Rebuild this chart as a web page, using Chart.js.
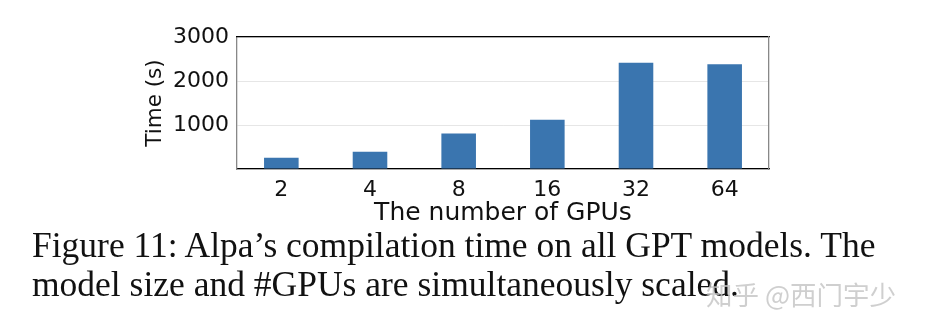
<!DOCTYPE html>
<html>
<head>
<meta charset="utf-8">
<script src="https://cdn.jsdelivr.net/npm/chart.js@4.4.0/dist/chart.umd.min.js"></script>
<style>
  body { margin: 0; background: #fff; width: 926px; height: 334px; overflow: hidden; position: relative; }
  #wrap { position: absolute; left: 0; top: 0; width: 926px; height: 230px; }
  .cap { position: absolute; left: 32px; font-family: "Liberation Serif", "Times New Roman", serif; font-size: 35.5px; line-height: 1; color: #111; white-space: nowrap; }
  #mark { position: absolute; left: 706px; top: 278px; font-family: "Noto Sans CJK SC", sans-serif; font-size: 26.5px; line-height: 1.2; color: rgba(195,195,195,0.8); white-space: nowrap; }
</style>
</head>
<body>
<div id="wrap"><canvas id="bar-chart"></canvas></div>
<div class="cap" style="top:228px">Figure 11: Alpa’s compilation time on all GPT models. The</div>
<div class="cap" style="top:267px">model size and #GPUs are simultaneously scaled.</div>
<div id="mark">知乎 @西门宇少</div>
<script>
// GPU counts on the horizontal axis
const gpuCounts = ['2', '4', '8', '16', '32', '64'];
// compilation time in seconds
const compileTime = [257, 393, 809, 1120, 2416, 2378];
// y tick values shown
const yTicks = [1000, 2000, 3000];

const font = 'DejaVu Sans';
const chartCanvas = document.querySelector('#bar-chart');

const barChart = new Chart(chartCanvas, {
  type: 'bar',
  data: {
    labels: gpuCounts,
    datasets: [{
      data: compileTime,
      backgroundColor: '#3a75af',
      barPercentage: 0.39,
      categoryPercentage: 1.0
    }]
  },
  options: {
    responsive: true,
    maintainAspectRatio: false,
    animation: false,
    layout: { padding: { left: 140, right: 157, top: 37, bottom: 2 } },
    plugins: {
      legend: { display: false },
      tooltip: { enabled: false }
    },
    scales: {
      x: {
        grid: { display: false },
        border: { color: '#000', width: 1.3 },
        ticks: { color: '#111', font: { family: font, size: 22 }, padding: 0 },
        title: { display: true, text: 'The number of GPUs', color: '#111', font: { family: font, size: 25 }, padding: { top: 0, bottom: 0 } },
        afterFit: function(scale) { scale.height = 59; }
      },
      y: {
        min: 0,
        max: 3000,
        grid: { color: '#e6e6e6', drawTicks: false },
        border: { color: '#888', width: 1.3 },
        ticks: {
          stepSize: 1000,
          color: '#111',
          font: { family: font, size: 22 },
          padding: 8,
          callback: function(value) {
            return yTicks.includes(value) ? value : '';
          }
        },
        title: { display: true, text: 'Time (s)', color: '#111', font: { family: font, size: 21.5 }, padding: { top: 3, bottom: 0 } },
        afterFit: function(scale) { scale.width = 97; }
      },
      xTop: {
        position: 'top',
        grid: { display: false, drawTicks: false },
        border: { color: '#000', width: 1.3 },
        ticks: { display: false },
        afterFit: function(scale) { scale.height = 0; }
      },
      yRight: {
        position: 'right',
        grid: { display: false, drawTicks: false },
        border: { color: '#888', width: 1.3 },
        ticks: { display: false },
        afterFit: function(scale) { scale.width = 0; }
      }
    }
  }
});
</script>
</body>
</html>
